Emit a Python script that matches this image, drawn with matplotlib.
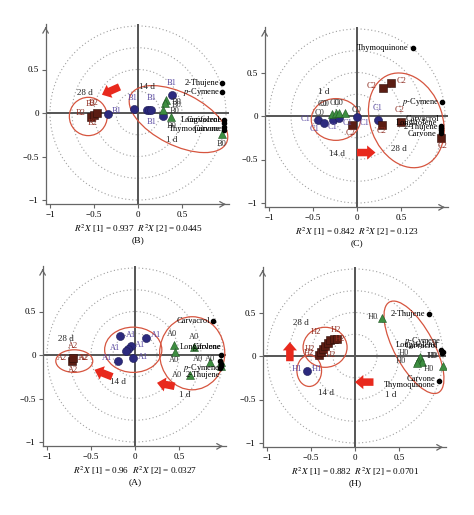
import matplotlib
matplotlib.use("Agg")
import matplotlib.pyplot as plt
from matplotlib.patches import Ellipse, Circle
from matplotlib.transforms import blended_transform_factory

# ---- panel (B) ----
B_D1 = [(0.32, 0.15), (0.31, 0.11), (0.28, 0.04), (0.38, -0.05), (0.96, -0.24)]
B_D14 = [(-0.34, -0.01), (-0.05, 0.05), (0.10, 0.03), (0.13, 0.04), (0.15, 0.04),
         (0.28, -0.03), (0.39, 0.21)]
B_D28 = [(-0.53, -0.05), (-0.50, -0.02), (-0.47, 0.0)]
B_D1_TXT = [(0.44, 0.13), (0.44, 0.09), (0.42, 0.02), (0.38, -0.15), (0.95, -0.36)]
B_D14_TXT = [(-0.24, 0.02), (-0.06, 0.17), (0.15, 0.17), (0.15, -0.10), (0.38, 0.34)]
B_D28_TXT = [(-0.65, 0.0), (-0.54, 0.10), (-0.50, 0.12), (-0.52, -0.12)]
B_VARS = [(0.95, 0.35), (0.96, 0.24), (0.98, -0.08), (0.98, -0.12), (0.98, -0.16),
          (0.98, -0.20)]
B_VAR_TXT = [("2-Thujene", 0.92, 0.35), ("p-Cymene", 0.93, 0.24),
             ("Longifolene", 0.95, -0.08), ("Carvacrol", 0.93, -0.08),
             ("Thymoquinone", 0.94, -0.18), ("Carvone", 0.96, -0.18)]
B_R2 = ("0.937", "0.0445")

# ---- panel (C) ----
C_D1 = [(-0.28, 0.02), (-0.24, 0.03), (-0.20, 0.04), (-0.14, 0.04)]
C_D14 = [(-0.44, -0.05), (-0.37, -0.08), (-0.27, -0.05), (-0.20, -0.02),
         (0.0, -0.01), (0.24, -0.05)]
C_D28 = [(0.30, 0.32), (0.39, 0.38), (0.50, -0.07), (0.28, -0.10), (-0.06, -0.10),
         (0.96, -0.25)]
C_D1_TXT = [(-0.39, 0.14), (-0.37, 0.14), (-0.25, 0.15), (-0.21, 0.15), (-0.43, 0.03),
            (0.0, 0.07)]
C_D14_TXT = [(-0.59, -0.03), (-0.48, -0.15), (-0.28, -0.13), (-0.11, -0.08),
             (0.09, -0.08), (0.23, 0.09)]
C_D28_TXT = [(0.16, 0.34), (0.50, 0.40), (0.48, 0.07), (0.28, -0.17), (-0.07, -0.19),
             (0.97, -0.35)]
C_VARS = [(0.64, 0.78), (0.97, 0.16), (0.95, -0.12), (0.96, -0.14), (0.95, -0.16),
          (0.96, -0.19)]
C_VAR_TXT = [("Thymoquinone", 0.59, 0.78), ("p-Cymene", 0.93, 0.16),
             ("Carvacrol", 0.94, -0.03), ("Longifolene", 0.91, -0.08),
             ("2-Thujene", 0.92, -0.13), ("Carvone", 0.90, -0.21)]
C_R2 = ("0.842", "0.123")

# ---- panel (A) ----
A_D1 = [(0.44, 0.11), (0.45, 0.04), (0.67, 0.09), (0.85, -0.08), (0.62, -0.23),
        (0.98, -0.08), (0.98, -0.13)]
A_D14 = [(-0.17, 0.22), (0.12, 0.20), (-0.05, 0.10), (-0.08, 0.07), (-0.10, 0.05),
         (-0.19, -0.07), (-0.02, -0.04)]
A_D28 = [(-0.72, -0.07), (-0.71, -0.04)]
A_D1_TXT = [(0.42, 0.24), (0.67, 0.21), (0.44, -0.06), (0.72, -0.05), (0.85, -0.05),
            (0.48, -0.23)]
A_D14_TXT = [(-0.04, 0.23), (0.24, 0.23), (-0.23, 0.08), (0.06, 0.12), (-0.32, -0.04),
             (0.09, -0.02)]
A_D28_TXT = [(-0.71, 0.10), (-0.83, -0.03), (-0.59, -0.03), (-0.58, -0.03),
             (-0.71, -0.17)]
A_VARS = [(0.89, 0.39), (0.98, 0.0), (0.97, -0.07), (0.98, -0.10), (0.98, -0.13),
          (0.97, -0.15)]
A_VAR_TXT = [("Carvacrol", 0.85, 0.39, "right"), ("Longifolene", 0.51, 0.09, "left"),
             ("Carvone", 0.66, 0.09, "left"), ("p-Cymene", 0.55, -0.15, "left"),
             ("2-Thujene", 0.57, -0.23, "left")]
A_R2 = ("0.96", "0.0327")

# ---- panel (H) ----
H_D1 = [(0.31, 0.44), (0.74, -0.01), (0.72, -0.06), (0.76, -0.07), (0.70, -0.08),
        (1.00, -0.12)]
H_D14 = [(-0.55, -0.17)]
H_D28 = [(-0.41, 0.01), (-0.39, 0.05), (-0.36, 0.08), (-0.34, 0.12), (-0.31, 0.15),
         (-0.28, 0.18), (-0.24, 0.19), (-0.20, 0.20)]
H_D1_TXT = [(0.20, 0.45), (0.56, 0.03), (0.52, -0.06), (0.87, 0.0), (0.88, 0.0),
            (0.84, -0.15)]
H_D14_TXT = [(-0.66, -0.15), (-0.43, -0.15)]
H_D28_TXT = [(-0.45, 0.28), (-0.22, 0.30), (-0.17, 0.19), (-0.51, 0.08), (-0.52, 0.03),
             (-0.28, 0.01)]
H_VARS = [(0.84, 0.48), (0.98, 0.07), (1.00, 0.05), (0.99, 0.03), (0.95, -0.29)]
H_VAR_TXT = [("2-Thujene", 0.80, 0.48, "right"), ("p-Cymene", 0.98, 0.17, "right"),
             ("Longifolene", 0.93, 0.13, "right"), ("Carvacrol", 0.95, 0.12, "right"),
             ("Carvone", 0.91, -0.27, "right"), ("Thymoquinone", 0.92, -0.33, "right")]
H_R2 = ("0.882", "0.0701")

NAVY = "#2c2a7e"
GREEN = "#3d8d40"
BROWN = "#5b1d13"
RED = "#d6553f"
ARROW = "#e8291d"
TXT0 = "#333333"
TXT1 = "#5a4aa2"
TXT2 = "#8e2e22"

plt.rcParams["font.family"] = ["Liberation Serif", "DejaVu Serif"]
plt.rcParams["mathtext.fontset"] = "stix"

FW, FH = 474, 515
UX, UY = 88.0, 87.0
XLIM = (-1.05, 1.03)
YLIM = (-1.05, 1.02)


def make_axes(fig, x0, y0):
    left = x0 + XLIM[0] * UX
    bottom = y0 - YLIM[0] * UY
    w = (XLIM[1] - XLIM[0]) * UX
    h = (YLIM[1] - YLIM[0]) * UY
    return fig.add_axes([left / FW, (FH - bottom) / FH, w / FW, h / FH])


def draw_panel(ax, letter, tag, d1, d14, d28, t1, t14, t28, vars_, var_txt, r2,
               ellipses, arrows, days):
    ax.set_xlim(*XLIM)
    ax.set_ylim(*YLIM)
    for s in ("top", "right"):
        ax.spines[s].set_visible(False)
    for s in ("left", "bottom"):
        ax.spines[s].set_color("#666666")
        ax.spines[s].set_linewidth(0.9)
    ax.tick_params(length=3, width=0.8, color="#666666", labelsize=6.5, pad=2)
    ax.set_xticks([-1, -0.5, 0, 0.5])
    ax.set_xticklabels(["\u22121", "\u22120.5", "0", "0.5"])
    ax.set_yticks([-1, -0.5, 0, 0.5])
    ax.set_yticklabels(["\u22121", "\u22120.5", "0", "0.5"])
    ax.annotate("", xy=(1.0, 0), xytext=(0.96, 0), xycoords="axes fraction",
                arrowprops=dict(arrowstyle="->,head_length=0.35,head_width=0.2",
                                color="#666666", lw=0.9))
    ax.annotate("", xy=(0, 1.0), xytext=(0, 0.96), xycoords="axes fraction",
                arrowprops=dict(arrowstyle="->,head_length=0.35,head_width=0.2",
                                color="#666666", lw=0.9))

    for r in (0.25, 0.5, 0.75, 1.0):
        ax.add_patch(Circle((0, 0), r, fill=False, ec="#a0a0a0", lw=0.8,
                            ls=(0, (1, 2.2)), zorder=1))
    ax.axhline(0, color="#555555", lw=1.4, zorder=2)
    ax.axvline(0, color="#555555", lw=1.4, zorder=2)

    for (cx, cy, w, h, ang) in ellipses:
        ax.add_patch(Ellipse((cx, cy), w, h, angle=ang, fill=False, ec=RED,
                             lw=0.9, zorder=3))
    for (tx, ty, hx, hy) in arrows:
        ax.annotate("", xy=(hx, hy), xytext=(tx, ty),
                    arrowprops=dict(arrowstyle="simple,head_length=0.5,head_width=0.85,"
                                               "tail_width=0.45",
                                    color=ARROW, lw=0, mutation_scale=12,
                                    shrinkA=0, shrinkB=0), zorder=4)
    for (txt, x, y) in days:
        ax.text(x, y, txt, fontsize=6.5, ha="center", va="center", color="#222222")

    ax.plot([p[0] for p in d14], [p[1] for p in d14], "o", ms=5.8, color=NAVY,
            mec="#1c1b55", mew=0.4, zorder=5)
    ax.plot([p[0] for p in d1], [p[1] for p in d1], "^", ms=5.8, color=GREEN,
            mec="#1f5522", mew=0.4, zorder=5)
    ax.plot([p[0] for p in d28], [p[1] for p in d28], "s", ms=5.4, color=BROWN,
            mec="#2e0d08", mew=0.4, zorder=5)
    ax.plot([p[0] for p in vars_], [p[1] for p in vars_], "o", ms=3.0, color="black",
            zorder=6)

    for x, y in t1:
        ax.text(x, y, tag + "0", fontsize=6, color=TXT0, ha="center", va="center",
                zorder=7)
    for x, y in t14:
        ax.text(x, y, tag + "1", fontsize=6, color=TXT1, ha="center", va="center",
                zorder=7)
    for x, y in t28:
        ax.text(x, y, tag + "2", fontsize=6, color=TXT2, ha="center", va="center",
                zorder=7)
    for item in var_txt:
        name, x, y = item[0], item[1], item[2]
        ha = item[3] if len(item) > 3 else "right"
        if name == "p-Cymene":
            name = r"$p$-Cymene"
        ax.text(x, y, name, fontsize=6, color="black", ha=ha, va="center", zorder=7)

    tr = blended_transform_factory(ax.transData, ax.transAxes)
    ax.text(0, -0.135, r"$R^2X$ [1] = %s  $R^2X$ [2] = %s" % r2, transform=tr,
            fontsize=6.6, ha="center", va="center")
    ax.text(0, -0.2, "(%s)" % letter, transform=tr, fontsize=6.8, ha="center",
            va="center")


fig = plt.figure(figsize=(FW / 100, FH / 100), dpi=100)

axB = make_axes(fig, 138, 113)
draw_panel(axB, "B", "B", B_D1, B_D14, B_D28, B_D1_TXT, B_D14_TXT, B_D28_TXT,
           B_VARS, B_VAR_TXT, B_R2,
           ellipses=[(-0.565, -0.04, 0.43, 0.44, 0), (0.46, -0.07, 1.22, 0.6, -27)],
           arrows=[(-0.21, 0.30, -0.41, 0.21)],
           days=[("28 d", -0.60, 0.23), ("14 d", 0.10, 0.30), ("1 d", 0.38, -0.31)])

axC = make_axes(fig, 357, 116)
draw_panel(axC, "C", "C", C_D1, C_D14, C_D28, C_D1_TXT, C_D14_TXT, C_D28_TXT,
           C_VARS, C_VAR_TXT, C_R2,
           ellipses=[(-0.24, -0.04, 0.56, 0.48, 0), (0.56, -0.05, 1.12, 0.82, -70)],
           arrows=[(0.0, -0.42, 0.21, -0.42)],
           days=[("1 d", -0.38, 0.28), ("14 d", -0.23, -0.44), ("28 d", 0.48, -0.38)])

axA = make_axes(fig, 135, 355)
draw_panel(axA, "A", "A", A_D1, A_D14, A_D28, A_D1_TXT, A_D14_TXT, A_D28_TXT,
           A_VARS, A_VAR_TXT, A_R2,
           ellipses=[(-0.69, -0.07, 0.42, 0.26, 0), (-0.02, 0.06, 0.65, 0.52, 0),
                     (0.65, 0.02, 0.74, 0.84, 0)],
           arrows=[(-0.26, -0.25, -0.46, -0.17), (0.45, -0.36, 0.25, -0.32)],
           days=[("28 d", -0.78, 0.18), ("14 d", -0.19, -0.31), ("1 d", 0.57, -0.46)])

axH = make_axes(fig, 355, 356)
draw_panel(axH, "H", "H", H_D1, H_D14, H_D28, H_D1_TXT, H_D14_TXT, H_D28_TXT,
           H_VARS, H_VAR_TXT, H_R2,
           ellipses=[(-0.34, 0.10, 0.50, 0.46, 0), (-0.52, -0.17, 0.28, 0.36, 0),
                     (0.67, 0.10, 1.18, 0.45, -62)],
           arrows=[(-0.74, -0.06, -0.74, 0.16), (0.21, -0.30, 0.0, -0.30)],
           days=[("28 d", -0.62, 0.38), ("14 d", -0.33, -0.42), ("1 d", 0.41, -0.45)])

fig.savefig("out.png", dpi=100)
plt.close(fig)
